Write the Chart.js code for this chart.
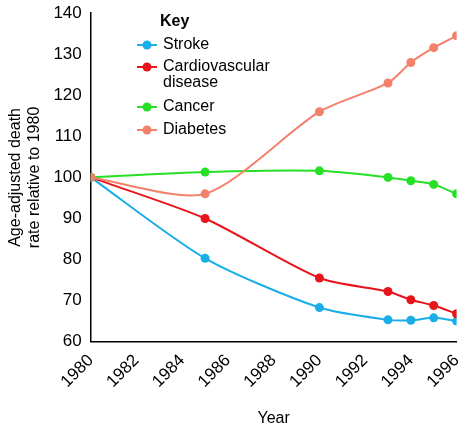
<!DOCTYPE html>
<html>
<head>
<script src="https://cdn.jsdelivr.net/npm/chart.js@4"></script>
<style>body{margin:0;background:#fff}#wrap{width:474px;height:428px}</style>
</head>
<body>
<div id="wrap"><canvas id="c"></canvas></div>
<script>
const years = [1980, 1985, 1990, 1993, 1994, 1995, 1996];
const stroke = [100, 80.3, 68.3, 65.3, 65.2, 65.8, 65];
const cardio = [100, 90, 75.5, 72.2, 70.2, 68.8, 66.8];
const cancer = [100, 101.3, 101.6, 100, 99.2, 98.3, 96];
const diabetes = [100, 96, 116, 123, 128, 131.6, 134.5];
const seriesNames = ["Stroke", ["Cardiovascular", "disease"], "Cancer", "Diabetes"];
const seriesColors = ["#1aaee8", "#e8141b", "#26e026", "#f2806a"];

const font = "'Liberation Sans', Arial";
const allSeries = [stroke, cardio, cancer, diabetes];
const datasets = allSeries.map((vals, i) => ({
  data: vals.map((v, j) => ({ x: years[j], y: v })),
  borderColor: seriesColors[i],
  backgroundColor: seriesColors[i],
  borderWidth: 2,
  tension: 0.25,
  pointRadius: 4.5,
  pointBorderWidth: 0,
  order: 3 - i,
}));

const keyPlugin = {
  id: "key",
  afterDraw(chart) {
    const ctx = chart.ctx;
    ctx.save();
    ctx.font = "bold 16px " + font;
    ctx.fillStyle = "#000";
    ctx.textBaseline = "middle";
    ctx.fillText("Key", 160, 22);
    ctx.font = "16px " + font;
    const ys = [45, 67, 107, 130];
    seriesNames.forEach((name, i) => {
      const y = ys[i];
      ctx.strokeStyle = seriesColors[i];
      ctx.fillStyle = seriesColors[i];
      ctx.lineWidth = 2;
      ctx.beginPath(); ctx.moveTo(137, y); ctx.lineTo(157, y); ctx.stroke();
      ctx.beginPath(); ctx.arc(147, y, 4.5, 0, Math.PI * 2); ctx.fill();
      ctx.fillStyle = "#000";
      const lines = Array.isArray(name) ? name : [name];
      lines.forEach((t, k) => ctx.fillText(t, 163, y + k * 16));
    });
    ctx.restore();
  }
};

new Chart(document.getElementById("c"), {
  type: "line",
  data: { datasets },
  plugins: [keyPlugin],
  options: {
    animation: false,
    responsive: true,
    maintainAspectRatio: false,
    layout: { padding: { top: 0, right: 4 } },
    plugins: { legend: { display: false }, tooltip: { enabled: false } },
    scales: {
      x: {
        type: "linear", min: 1980, max: 1996,
        ticks: { stepSize: 2, maxRotation: 45, minRotation: 45, color: "#000",
          font: { size: 17, family: font }, callback: v => String(v) },
        grid: { display: false, drawOnChartArea: false, tickLength: 6, color: "#000" },
        border: { color: "#000", width: 1.5 },
        title: { display: true, text: "Year", color: "#000", font: { size: 16, family: font }, padding: { top: 14, bottom: 0 } }
      },
      y: {
        min: 60, max: 140,
        ticks: { stepSize: 10, color: "#000", font: { size: 17, family: font } },
        grid: { display: false, drawOnChartArea: false, tickLength: 6, color: "#000" },
        border: { color: "#000", width: 1.5 },
        title: { display: true, text: ["Age-adjusted death", "rate relative to 1980"], color: "#000", font: { size: 16, family: font }, padding: 6 }
      }
    }
  }
});
</script>
</body>
</html>
